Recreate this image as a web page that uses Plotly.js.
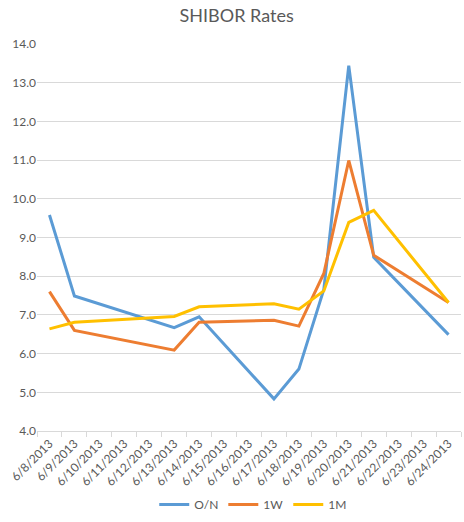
<!DOCTYPE html>
<html>
<head>
<meta charset="utf-8">
<script src="https://cdn.plot.ly/plotly-3.0.1.min.js"></script>
<style>html,body{margin:0;padding:0;background:#fff;}#chart{width:464px;height:522px;}</style>
</head>
<body>
<div id="chart"></div>
<script>
const allDates = ["6/8/2013","6/9/2013","6/10/2013","6/11/2013","6/12/2013","6/13/2013","6/14/2013","6/15/2013","6/16/2013","6/17/2013","6/18/2013","6/19/2013","6/20/2013","6/21/2013","6/22/2013","6/23/2013","6/24/2013"];
const obsDates = ["6/8/2013","6/9/2013","6/13/2013","6/14/2013","6/17/2013","6/18/2013","6/19/2013","6/20/2013","6/21/2013","6/24/2013"];
const onValues = [9.58, 7.49, 6.67, 6.95, 4.83, 5.60, 7.66, 13.44, 8.49, 6.49];
const w1Values = [7.60, 6.60, 6.09, 6.81, 6.86, 6.71, 8.07, 10.99, 8.54, 7.32];
const m1Values = [6.64, 6.81, 6.96, 7.21, 7.29, 7.15, 7.62, 9.39, 9.70, 7.32];

const mk = (name, y, color) => ({
  type: 'scatter', mode: 'lines', name: name, x: obsDates, y: y,
  line: {color: color, width: 3}, hoverinfo: 'x+y'
});

const data = [
  mk('O/N', onValues, '#5B9BD5'),
  mk('1W', w1Values, '#ED7D31'),
  mk('1M', m1Values, '#FFC000')
];

const layout = {
  width: 464, height: 522,
  margin: {l: 37, r: 3, t: 44, b: 87},
  paper_bgcolor: '#fff', plot_bgcolor: '#fff',
  font: {family: 'Lato, "Liberation Sans", sans-serif', size: 12, color: '#595959'},
  title: {text: 'SHIBOR Rates', x: 0.51, xanchor: 'center', y: 0.97, yanchor: 'middle',
          font: {size: 18, color: '#595959'}},
  xaxis: {
    type: 'category', categoryorder: 'array', categoryarray: allDates, automargin: false,
    range: [-0.5, 16.5], tickson: 'boundaries', ticks: 'outside', ticklen: 5,
    tickcolor: '#d9d9d9', showline: true, linecolor: '#d9d9d9', linewidth: 1,
    showgrid: false, tickangle: -45, tickfont: {size: 12, color: '#595959'}
  },
  yaxis: {
    range: [4, 14], dtick: 1, tickformat: '.1f', showgrid: true, gridcolor: '#d9d9d9', automargin: false,
    zeroline: false, showline: false, ticks: '', tickfont: {size: 12, color: '#595959'}
  },
  showlegend: true,
  legend: {orientation: 'h', x: 0.51, xanchor: 'center', y: -0.19, yanchor: 'middle',
           font: {size: 12, color: '#595959'}}
};

Plotly.newPlot('chart', data, layout, {displayModeBar: false, staticPlot: true});
</script>
</body>
</html>
